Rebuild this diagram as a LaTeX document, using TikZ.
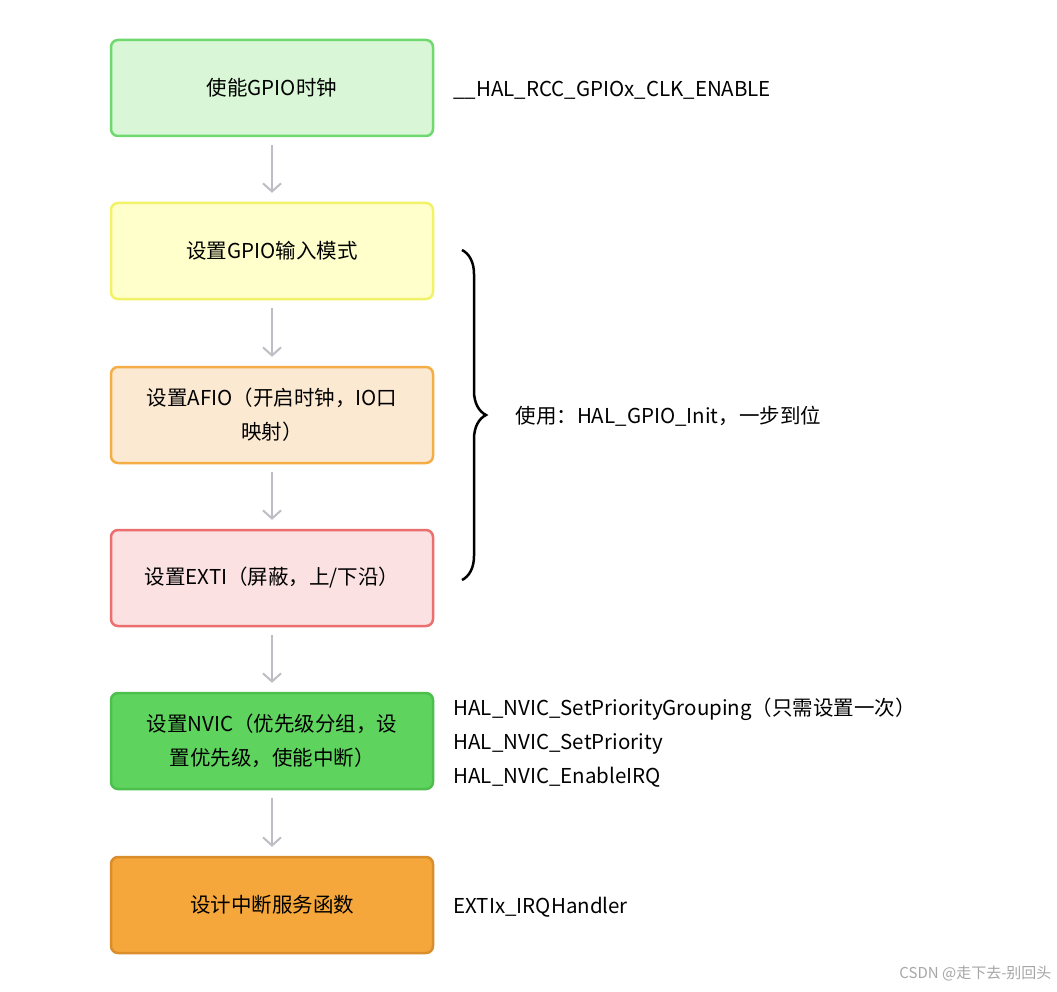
\documentclass[tikz,border=0pt]{standalone}
\usepackage{fontspec}
\setmainfont{Noto Sans CJK SC}
\usetikzlibrary{decorations.pathreplacing,arrows.meta}
\definecolor{f1}{HTML}{D9F7D6}\definecolor{d1}{HTML}{6FD96F}
\definecolor{f2}{HTML}{FFFFCC}\definecolor{d2}{HTML}{F2F266}
\definecolor{f3}{HTML}{FCE9D2}\definecolor{d3}{HTML}{F5AE45}
\definecolor{f4}{HTML}{FBE1E1}\definecolor{d4}{HTML}{EC6F6F}
\definecolor{f5}{HTML}{5ED45E}\definecolor{d5}{HTML}{4DBF4D}
\definecolor{f6}{HTML}{F5A73B}\definecolor{d6}{HTML}{D98E2B}
\definecolor{arr}{HTML}{BDBDC4}
\begin{document}
\begin{tikzpicture}[x=1pt,y=-1pt,
 box/.style={draw,line width=2.5pt,rounded corners=7pt,minimum width=322pt,minimum height=96pt,text width=300pt,align=center,font=\fontsize{20.5}{34}\selectfont},
 lab/.style={anchor=west,font=\fontsize{20.5}{34}\selectfont,align=left},
 conn/.style={draw=arr,line width=2pt,-{Straight Barb[length=8pt,width=18pt]}}]
\useasboundingbox[fill=white] (0,0) rectangle (1057,992);
\node[box,fill=f1,draw=d1] (b1) at (272,88) {使能GPIO时钟};
\node[box,fill=f2,draw=d2] (b2) at (272,251) {设置GPIO输入模式};
\node[box,fill=f3,draw=d3] (b3) at (272,415) {设置AFIO（开启时钟，IO口\\映射）};
\node[box,fill=f4,draw=d4] (b4) at (272,578) {设置EXTI（屏蔽，上/下沿）};
\node[box,fill=f5,draw=d5] (b5) at (272,741) {设置NVIC（优先级分组，设\\置优先级，使能中断）};
\node[box,fill=f6,draw=d6] (b6) at (272,905) {设计中断服务函数};
\foreach \a/\b in {b1/b2,b2/b3,b3/b4,b4/b5,b5/b6}
  \draw[conn] ([yshift=-8pt]\a.south) -- ([yshift=9pt]\b.north);
\node[lab] (t1) at (450,90) {\_\_HAL\_RCC\_GPIOx\_CLK\_ENABLE};
\coordinate (bt) at (462,250);
\coordinate (bb) at (462,580);
\draw[line width=2.5pt,decorate,decoration={brace,amplitude=24pt,aspect=0.5}] (bt) -- (bb);
\node[lab] (t2) at (512,416) {使用：HAL\_GPIO\_Init，一步到位};
\node[lab] (t3) at (450,743) {HAL\_NVIC\_SetPriorityGrouping（只需设置一次）\\HAL\_NVIC\_SetPriority\\HAL\_NVIC\_EnableIRQ};
\node[lab] (t4) at (450,907) {EXTIx\_IRQHandler};
\node[anchor=east,text=gray!70,font=\fontsize{15}{16}\selectfont] (wm) at (1055,973) {CSDN @走下去-别回头};
\end{tikzpicture}
\end{document}
